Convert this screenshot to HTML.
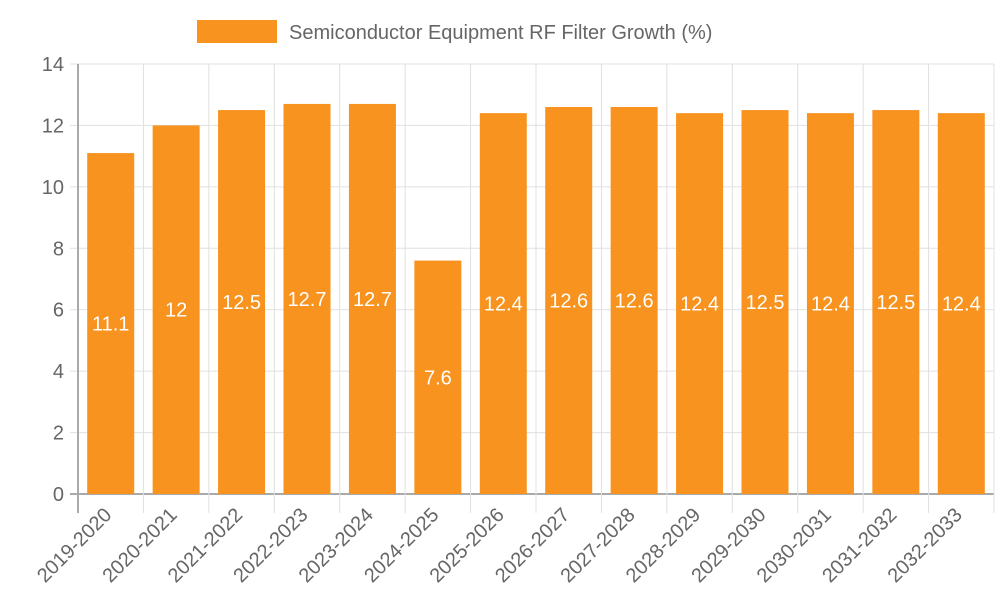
<!DOCTYPE html>
<html><head><meta charset="utf-8"><style>
body{margin:0;background:#fff;}
svg text{font-family:"Liberation Sans",sans-serif;}
</style></head><body>
<svg id="chart" width="1000" height="600" xmlns="http://www.w3.org/2000/svg">
<rect x="197" y="20" width="80" height="23" fill="#f7931e"/>
<text x="289" y="39" font-size="20" fill="#666">Semiconductor Equipment RF Filter Growth (%)</text>
<g id="grid"></g><g id="bars"></g><g id="labels"></g>
</svg>
<script>
const categories=["2019-2020","2020-2021","2021-2022","2022-2023","2023-2024","2024-2025","2025-2026","2026-2027","2027-2028","2028-2029","2029-2030","2030-2031","2031-2032","2032-2033"];
const values=[11.1,12,12.5,12.7,12.7,7.6,12.4,12.6,12.6,12.4,12.5,12.4,12.5,12.4];
const yTicks=[0,2,4,6,8,10,12,14];
const NS="http://www.w3.org/2000/svg";
const L=78,R=994,T=64,B=494,yMax=14;
const step=(R-L)/categories.length;
const y=v=>B-(v/yMax)*(B-T);
const x=i=>L+step*i;
function mk(tag,attrs,parent){const e=document.createElementNS(NS,tag);for(const k in attrs)e.setAttribute(k,attrs[k]);document.getElementById(parent).appendChild(e);return e;}
yTicks.forEach(t=>{
 const g=mk('line',{x1:L-8,x2:R,y1:y(t),y2:y(t),stroke:t===0?'#aaa':'#e0e0e0','stroke-width':t===0?2:1},'grid');
 
 
 const tx=mk('text',{x:L-14,y:y(t)+7,'text-anchor':'end','font-size':20,fill:'#666'},'grid');
 tx.textContent=t;
 
 
});
for(let i=0;i<=categories.length;i++){
 const l=mk('line',{x1:x(i),x2:x(i),y1:T,y2:B+19,stroke:i===0?'#aaa':'#e0e0e0','stroke-width':i===0?2:1},'grid');
 
 
}
categories.forEach((c,i)=>{
 const cx=x(i)+step/2,bw=47;
 const r=mk('rect',{x:cx-bw/2,y:y(values[i]),width:bw,height:B-y(values[i]),fill:'#f7931e'},'bars');
 
 
 const v=mk('text',{x:cx,y:(y(values[i])+B)/2+7,'text-anchor':'middle','font-size':20,fill:'#fff'},'labels');
 v.textContent=values[i];
 
 
 const t=mk('text',{x:cx+2,y:B+22,'text-anchor':'end','font-size':20,fill:'#666',transform:`rotate(-45 ${cx+2} ${B+22})`},'labels');
 t.textContent=c;
 
 
});
</script>
</body></html>
